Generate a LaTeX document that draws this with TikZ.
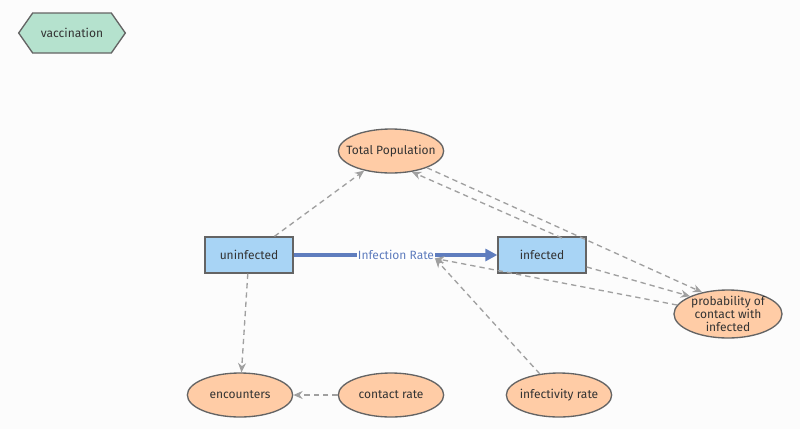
\documentclass[tikz,border=0pt]{standalone}
\usepackage{fontspec}
\setmainfont{Fira Sans}
\usetikzlibrary{shapes.geometric,shapes.symbols,arrows.meta}
\definecolor{peach}{RGB}{255,204,166}
\definecolor{sky}{RGB}{168,212,245}
\definecolor{mint}{RGB}{181,226,206}
\definecolor{edge}{RGB}{100,100,100}
\definecolor{flowc}{RGB}{95,125,190}
\definecolor{dep}{RGB}{160,160,160}
\tikzset{
  every node/.style={font=\fontsize{9}{10}\selectfont, text=black!80},
  var/.style={ellipse, draw=edge, line width=1pt, fill=peach, minimum width=79pt, minimum height=33pt, inner xsep=-6pt, inner ysep=0pt, align=center},
  stock/.style={rectangle, draw=edge, line width=1pt, fill=sky, minimum width=66pt, minimum height=27pt},
  hex/.style={signal, signal to=east and west, signal pointer angle=110, draw=edge, line width=1pt, fill=mint, minimum width=80pt, minimum height=30pt},
  link/.style={draw=dep, line width=1pt, dash pattern=on 4pt off 3pt, -{Stealth[length=7pt,width=6pt]}},
  flow/.style={draw=flowc, line width=2.6pt, -{Triangle[length=9pt,width=9pt]}}
}
\begin{document}
\begin{tikzpicture}[x=0.75pt,y=-0.75pt]
\fill[white!99!black] (0,0) rectangle (800,429);
\useasboundingbox (0,0) rectangle (800,429);
\node[hex] (vac) at (72,33) {vaccination};
\node[var] (tp) at (391,151) {Total Population};
\node[stock] (un) at (249,255) {uninfected};
\node[stock] (inf) at (542,255) {infected};
\node[var, minimum width=81pt, minimum height=36pt, inner xsep=-4pt, inner ysep=-2.5pt, font=\fontsize{9}{9.5}\selectfont] (prob) at (728,314) {probability of\\contact with\\infected};
\node[var] (enc) at (240,395) {encounters};
\node[var] (cr) at (391,395) {contact rate};
\node[var] (ir) at (559,395) {infectivity rate};
\coordinate (rate) at (396,255);
\draw[flow] (un) -- (inf);
\node[text=flowc, fill=white, inner sep=0.5pt] (ratel) at (rate) {Infection Rate};
\draw[link] (un) -- (tp);
\coordinate (a) at (562,238);
\draw[link] (a) -- (tp.-45);
\draw[link] (tp.-25) -- (prob.140);
\draw[link] (inf.-15) -- (prob.155);
\draw[link] (prob.170) -- (ratel.-5);
\draw[link] (ir) -- (ratel.-5);
\draw[link] (un) -- (enc);
\draw[link] (cr) -- (enc);
\end{tikzpicture}
\end{document}
